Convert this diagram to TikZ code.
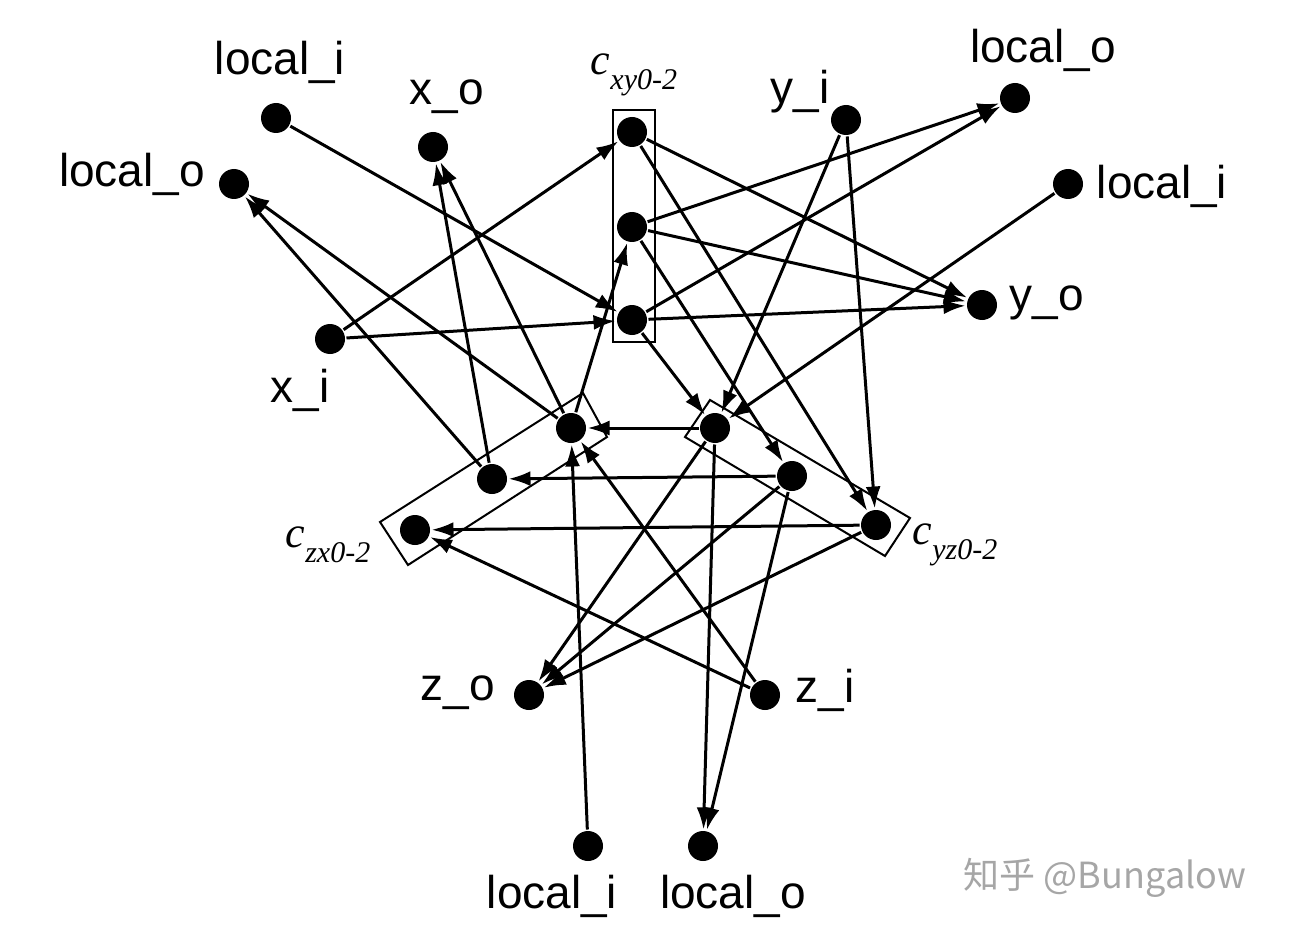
\documentclass[tikz,border=0pt]{standalone}
\usepackage{fontspec}
\setmainfont{Liberation Sans}
\newfontfamily\timesf{Liberation Serif}
\newfontfamily\cjk{Noto Sans CJK SC}
\usetikzlibrary{arrows.meta, positioning}

\begin{document}
\begin{tikzpicture}[x=0.5pt, y=-0.5pt, line width=1.5pt,
    dot/.style={circle, fill=black, inner sep=0pt, minimum size=15pt},
    lab/.style={font=\fontsize{23}{26}\selectfont, inner sep=0pt},
    clab/.style={font=\timesf\itshape\fontsize{22}{24}\selectfont, inner sep=0pt},
    >={Latex[length=11pt, width=7.5pt]}]
  \useasboundingbox (0,0) rectangle (1289,936);

  \node[dot] (li1) at (276,118) {};
  \node[dot] (xo) at (433,147) {};
  \node[dot] (lo1) at (234,184) {};
  \node[dot] (xy0) at (632,132) {};
  \node[dot] (xy1) at (632,227) {};
  \node[dot] (xy2) at (632,320) {};
  \node[dot] (yi) at (846,120) {};
  \node[dot] (lo2) at (1015,98) {};
  \node[dot] (li2) at (1068,184) {};
  \node[dot] (yo) at (982,305) {};
  \node[dot] (xi) at (330,339) {};
  \node[dot] (zx0) at (571,428) {};
  \node[dot] (zx1) at (492,479) {};
  \node[dot] (zx2) at (415,530) {};
  \node[dot] (yz0) at (715,428) {};
  \node[dot] (yz1) at (792,476) {};
  \node[dot] (yz2) at (876,525) {};
  \node[dot] (zo) at (529,695) {};
  \node[dot] (zi) at (765,695) {};
  \node[dot] (li3) at (588,846) {};
  \node[dot] (lo3) at (703,846) {};

  \node[lab] (tli1) at (280,62) {local\_i};
  \node[lab] (txo) at (447,97) {x\_o};
  \node[lab] (tlo1) at (132,174) {local\_o};
  \node[lab] (tyi) at (800,92) {y\_i};
  \node[lab] (tlo2) at (1043,50) {local\_o};
  \node[lab] (tli2) at (1162,186) {local\_i};
  \node[lab] (tyo) at (1047,303) {y\_o};
  \node[lab] (txi) at (300,390) {x\_i};
  \node[lab] (tzo) at (458,693) {z\_o};
  \node[lab] (tzi) at (825,690) {z\_i};
  \node[lab] (tli3) at (552,896) {local\_i};
  \node[lab] (tlo3) at (733,896) {local\_o};
  \node[clab] (txy) at (634,75) {c\raisebox{-0.35em}{\fontsize{15}{16}\selectfont xy0-2}};
  \node[clab] (tzx) at (328,545) {c\raisebox{-0.35em}{\fontsize{15}{16}\selectfont zx0-2}};
  \node[clab] (tyz) at (955,545) {c\raisebox{-0.35em}{\fontsize{15}{16}\selectfont yz0-2}};
  \node[font=\cjk\fontsize{18}{20}\selectfont, text=black!35] (wm) at (1105,878) {知乎 @Bungalow};

  % groups
  \draw[line width=1pt] (613,110) rectangle (655,342);
  \draw[line width=1pt] (380,522) -- (583,393) -- (607,437) -- (408,565) -- cycle;
  \draw[line width=1pt] (685,437) -- (710,400) -- (910,518) -- (885,556) -- cycle;

  \draw[->] (li1) -- (xy2);
  \draw[->] (xi) -- (xy0);
  \draw[->] (xi) -- (xy2);
  \draw[->] (xy0) -- (yo);
  \draw[->] (xy1) -- (yo);
  \draw[->] (xy2) -- (yo);
  \draw[->] (xy1) -- (lo2);
  \draw[->] (xy2) -- (lo2);
  \draw[->] (xy0) -- (yz2);
  \draw[->] (xy1) -- (yz1);
  \draw[->] (xy2) -- (yz0);
  \draw[->] (yi) -- (yz0);
  \draw[->] (yi) -- (yz2);
  \draw[->] (li2) -- (yz0);
  \draw[->] (yz0) -- (zx0);
  \draw[->] (yz1) -- (zx1);
  \draw[->] (yz2) -- (zx2);
  \draw[->] (zx0) -- (xy1);
  \draw[->] (zx0) -- (xo);
  \draw[->] (zx1) -- (xo);
  \draw[->] (zx0) -- (lo1);
  \draw[->] (zx1) -- (lo1);
  \draw[->] (zi) -- (zx0);
  \draw[->] (zi) -- (zx2);
  \draw[->] (li3) -- (zx0);
  \draw[->] (yz0) -- (zo);
  \draw[->] (yz1) -- (zo);
  \draw[->] (yz2) -- (zo);
  \draw[->] (yz0) -- (lo3);
  \draw[->] (yz1) -- (lo3);
\end{tikzpicture}
\end{document}
